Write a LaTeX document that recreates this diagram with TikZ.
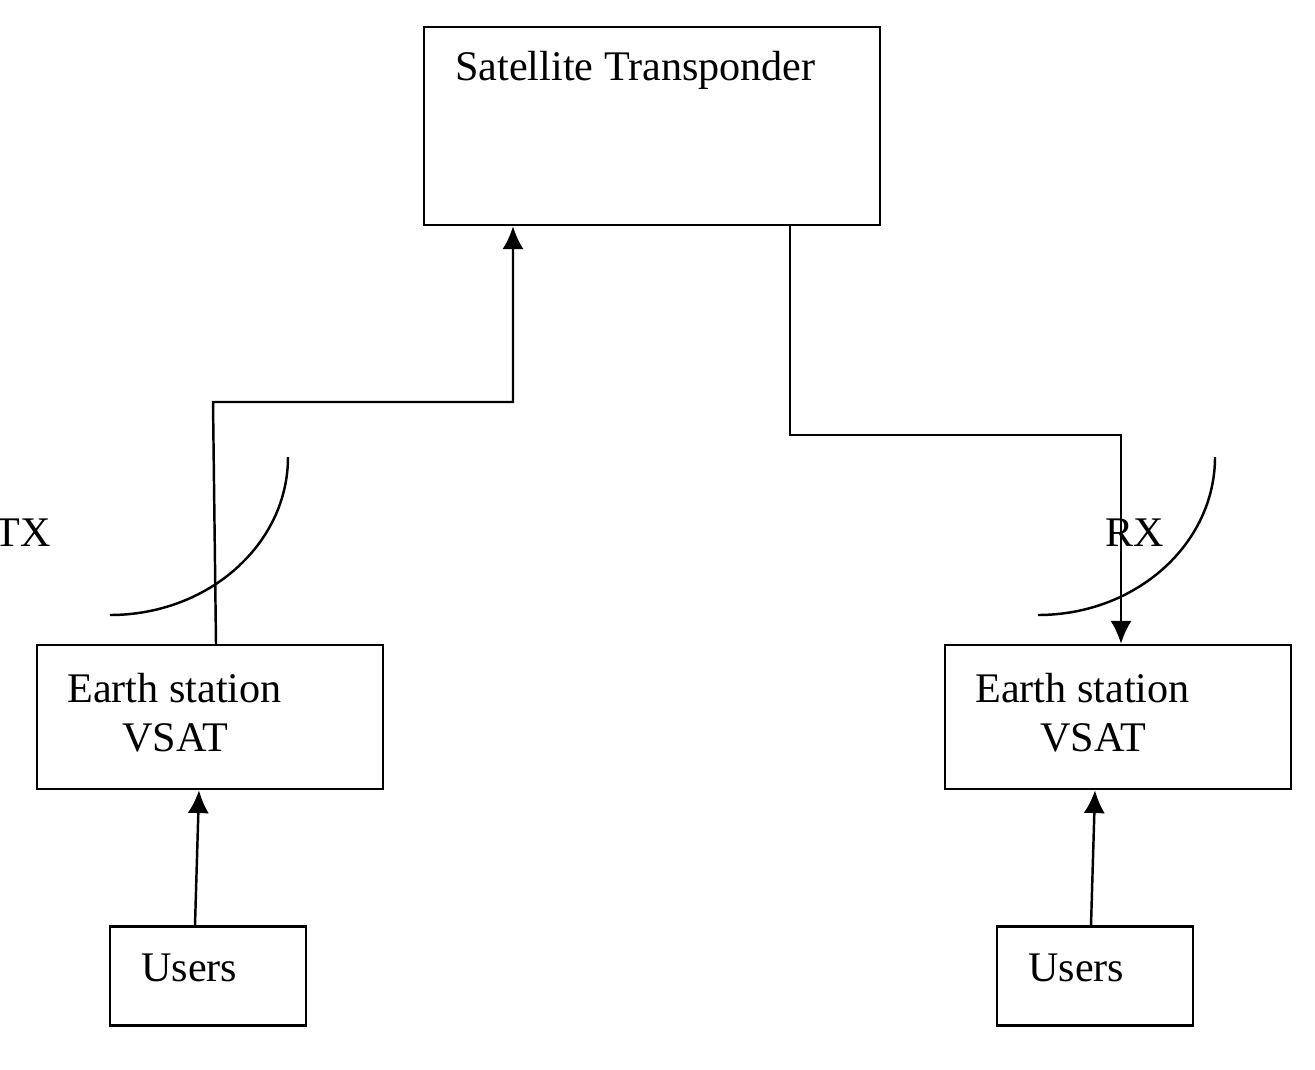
\documentclass[tikz,border=0pt]{standalone}
\usepackage{fontspec}
\setmainfont{Liberation Serif}
\usepackage{tikz}
\usetikzlibrary{positioning}
\tikzset{
  box/.style={draw, line width=1.4pt, minimum width=#1, inner sep=0pt},
  lbl/.style={inner sep=0pt, anchor=west, font=\fontsize{24}{27}\selectfont},
  link/.style={line width=1.4pt, -{Latex[length=13pt,width=12pt]}}
}
\usetikzlibrary{arrows.meta}
\begin{document}
\begin{tikzpicture}[x=0.02cm, y=-0.02cm]
      \useasboundingbox (0,0) rectangle (1315,1069);

      \node[box=9.12cm, minimum height=3.96cm](sat) at (652,126){};
      \node[lbl](satt) at (455,70){Satellite Transponder};

      \node[box=6.92cm, minimum height=2.88cm](esl) at (210,717){};
      \node[lbl](eslt) at (67,688){Earth station};
      \node[lbl](eslv) at (122,738){VSAT};

      \node[box=6.92cm, minimum height=2.88cm](esr) at (1118,717){};
      \node[lbl](esrt) at (975,688){Earth station};
      \node[lbl](esrv) at (1040,738){VSAT};

      \node[box=3.92cm, minimum height=1.98cm](usl) at (208,976){};
      \node[lbl](uslt) at (141,968){Users};
      \node[box=3.92cm, minimum height=1.98cm](usr) at (1095,976){};
      \node[lbl](usrt) at (1028,968){Users};

      \node[lbl](tx) at (-6,533){TX};
      \node[lbl](rx) at (1105,533){RX};

      % dishes
      \draw[line width=1.4pt] (110,615) arc[start angle=-90, end angle=0, x radius=178, y radius=-158];
      \draw[line width=1.4pt] (1038,615) arc[start angle=-90, end angle=0, x radius=177, y radius=-158];

      % links
      \draw[link] (esl.north -| 216,0) -- (213,402) -- (513,402) -- (sat.south -| 513,0);
      \draw[link] (sat.south -| 790,0) -- (790,435) -- (1121,435) -- (esr.north -| 1121,0);
      \draw[link] (usl.north -| 195,0) -- (esl.south -| 199,0);
      \draw[link] (usr.north -| 1091,0) -- (esr.south -| 1095,0);
\end{tikzpicture}
\end{document}
